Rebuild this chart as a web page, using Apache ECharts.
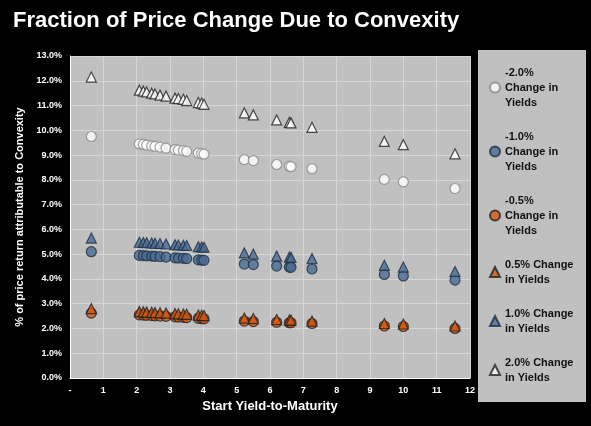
<!DOCTYPE html>
<html>
<head>
<meta charset="utf-8">
<script src="https://cdn.jsdelivr.net/npm/echarts@6/dist/echarts.min.js"></script>
<style>body{margin:0;background:#000}#c{width:591px;height:426px}</style>
</head>
<body>
<div id="c"></div>
<script>
// start yield-to-maturity (x)
var ytm = [0.64,2.08,2.2,2.3,2.45,2.55,2.7,2.88,3.15,3.25,3.4,3.5,3.85,3.95,4.02,5.23,5.5,6.2,6.58,6.63,7.26,9.43,10.0,11.55];
var up20 = [12.15,11.62,11.58,11.55,11.5,11.47,11.42,11.38,11.3,11.28,11.25,11.2,11.12,11.1,11.05,10.7,10.62,10.42,10.32,10.3,10.12,9.55,9.42,9.05];
var dn20 = [9.75,9.45,9.43,9.4,9.37,9.35,9.32,9.28,9.22,9.2,9.18,9.15,9.08,9.06,9.04,8.82,8.78,8.62,8.55,8.53,8.45,8.02,7.92,7.65];
var up10 = [5.65,5.48,5.47,5.46,5.45,5.44,5.43,5.41,5.38,5.37,5.36,5.35,5.3,5.29,5.28,5.05,5.0,4.92,4.88,4.87,4.82,4.55,4.48,4.3];
var dn10 = [5.1,4.95,4.94,4.93,4.92,4.91,4.9,4.88,4.85,4.84,4.83,4.82,4.77,4.76,4.75,4.6,4.58,4.52,4.48,4.47,4.4,4.18,4.12,3.95];
var up05 = [2.8,2.68,2.67,2.66,2.65,2.64,2.63,2.62,2.6,2.59,2.58,2.57,2.54,2.53,2.52,2.42,2.4,2.36,2.34,2.34,2.3,2.2,2.18,2.1];
var dn05 = [2.62,2.55,2.54,2.53,2.52,2.51,2.5,2.49,2.47,2.46,2.45,2.44,2.41,2.4,2.39,2.3,2.28,2.25,2.23,2.23,2.2,2.1,2.08,2.0];

function pts(vals){ return ytm.map(function(x,i){ return [x, vals[i]]; }); }

var series = [
  {name:'-2.0%\nChange in\nYields', data:pts(dn20), symbol:'circle', color:'#ffffff', border:'#888'},
  {name:'-1.0%\nChange in\nYields', data:pts(dn10), symbol:'circle', color:'#4a6a92', border:'#1e2e44'},
  {name:'-0.5%\nChange in\nYields', data:pts(dn05), symbol:'circle', color:'#d4560f', border:'#222'},
  {name:'0.5% Change\nin Yields', data:pts(up05), symbol:'triangle', color:'#d4560f', border:'#222'},
  {name:'1.0% Change\nin Yields', data:pts(up10), symbol:'triangle', color:'#4a6a92', border:'#1e2e44'},
  {name:'2.0% Change\nin Yields', data:pts(up20), symbol:'triangle', color:'#ffffff', border:'#222'}
].map(function(s){
  return {name:s.name, type:'scatter', data:s.data, symbol:s.symbol, symbolSize:10,
    itemStyle:{color:s.color, borderColor:s.border, borderWidth:1.2}};
});

var chart = echarts.init(document.getElementById('c'));
chart.setOption({
  backgroundColor:'#000',
  animation:false,
  title:{text:'Fraction of Price Change Due to Convexity', left:8, top:5,
    textStyle:{color:'#fff', fontSize:22, fontWeight:'bold', fontFamily:'Liberation Sans'}},
  graphic:[{type:'rect', shape:{x:478, y:50, width:108, height:352}, style:{fill:'#c0c0c0'}}],
  legend:{orient:'vertical', left:484, top:60, itemGap:19, itemWidth:10, itemHeight:10,
    textStyle:{color:'#111', fontSize:11, fontWeight:'bold', fontFamily:'Liberation Sans', lineHeight:15},
    data:series.map(function(s){return s.name;})},
  grid:{left:70, right:121, top:56, bottom:48, backgroundColor:'#c0c0c0', show:true, borderWidth:0},
  xAxis:{type:'value', min:0, max:12, interval:1,
    name:'Start Yield-to-Maturity', nameLocation:'middle', nameGap:22,
    nameTextStyle:{color:'#fff', fontSize:13, fontWeight:'bold', fontFamily:'Liberation Sans'},
    axisLine:{lineStyle:{color:'#fff'}}, axisTick:{show:false},
    axisLabel:{color:'#fff', fontSize:9, fontWeight:'bold', formatter:function(v){return v===0?'-':v;}},
    splitLine:{lineStyle:{color:'#d6d6d6'}}},
  yAxis:{type:'value', min:0, max:13, interval:1,
    name:'% of price return attributable to Convexity', nameLocation:'middle', nameGap:44,
    nameTextStyle:{color:'#fff', fontSize:11, fontWeight:'bold', fontFamily:'Liberation Sans'},
    axisLine:{show:true, lineStyle:{color:'#fff'}}, axisTick:{show:false},
    axisLabel:{color:'#fff', fontSize:9, fontWeight:'bold', formatter:function(v){return v.toFixed(1)+'%';}},
    splitLine:{lineStyle:{color:'#d6d6d6'}}},
  series:series
});
</script>
</body>
</html>
